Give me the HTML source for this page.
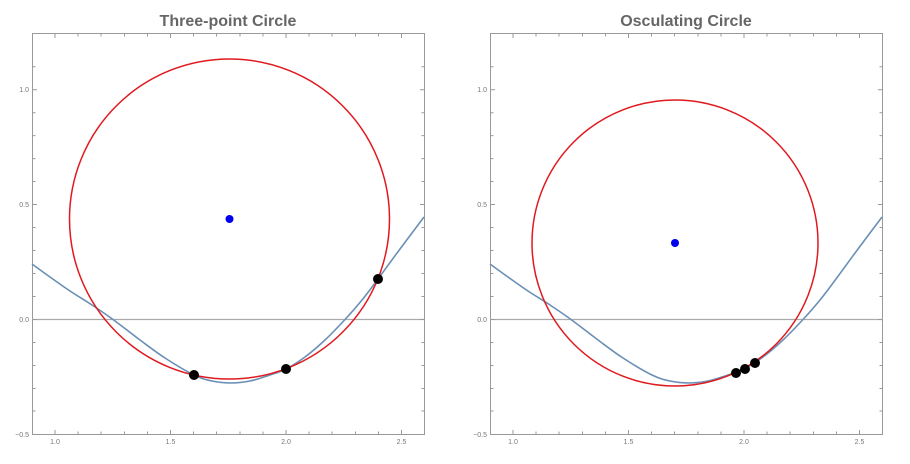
<!DOCTYPE html><html><head><style>body{margin:0;background:#fff}svg{display:block}text{font-family:"Liberation Sans",sans-serif}</style></head><body>
<svg width="910" height="464" viewBox="0 0 910 464">
<defs>
<g id="ax">
<rect x="32.5" y="33.5" width="392" height="401" fill="none" stroke="#999" stroke-width="1"/>
<line x1="32.5" y1="319.5" x2="424.5" y2="319.5" stroke="#aaa" stroke-width="1.2"/>
<g stroke="#999" stroke-width="1">
<path d="M55,434v-4M170.5,434v-4M286,434v-4M401.5,434v-4M55,34v4M170.5,34v4M286,34v4M401.5,34v4"/>
<path d="M78,434v-2.5M101,434v-2.5M124.5,434v-2.5M147.5,434v-2.5M193.5,434v-2.5M216.5,434v-2.5M240,434v-2.5M263,434v-2.5M309,434v-2.5M332,434v-2.5M355.5,434v-2.5M378.5,434v-2.5M78,34v2.5M101,34v2.5M124.5,34v2.5M147.5,34v2.5M193.5,34v2.5M216.5,34v2.5M240,34v2.5M263,34v2.5M309,34v2.5M332,34v2.5M355.5,34v2.5M378.5,34v2.5"/>
<path d="M33,89.7h4M33,204.5h4M33,319.5h4M424,89.7h-4M424,204.5h-4M424,319.5h-4"/>
<path d="M33,66.7h2.5M33,112.7h2.5M33,135.6h2.5M33,158.6h2.5M33,181.5h2.5M33,227.5h2.5M33,250.5h2.5M33,273.5h2.5M33,296.5h2.5M33,342.5h2.5M33,365.5h2.5M33,388.5h2.5M33,411h2.5M424,66.7h-2.5M424,112.7h-2.5M424,135.6h-2.5M424,158.6h-2.5M424,181.5h-2.5M424,227.5h-2.5M424,250.5h-2.5M424,273.5h-2.5M424,296.5h-2.5M424,342.5h-2.5M424,365.5h-2.5M424,388.5h-2.5M424,411h-2.5"/>
</g>
<g font-size="7" fill="#777">
<text x="29" y="92" text-anchor="end">1.0</text>
<text x="29" y="207" text-anchor="end">0.5</text>
<text x="29" y="322" text-anchor="end">0.0</text>
<text x="29" y="437" text-anchor="end">−0.5</text>
<text x="55" y="444" text-anchor="middle">1.0</text>
<text x="170.5" y="444" text-anchor="middle">1.5</text>
<text x="286" y="444" text-anchor="middle">2.0</text>
<text x="401.5" y="444" text-anchor="middle">2.5</text>
</g>
<path id="crv" fill="none" stroke="#6a8fb5" stroke-width="1.6" d="M32,264 L424,217"/>
</g>
</defs>
<use href="#ax"/>
<circle cx="229.5" cy="219" r="160" fill="none" stroke="#e0191e" stroke-width="1.5"/>
<circle cx="229.5" cy="219" r="4" fill="#0000ee"/>
<circle cx="194" cy="375" r="5" fill="#000"/>
<circle cx="286" cy="369" r="5" fill="#000"/>
<circle cx="378" cy="279" r="5" fill="#000"/>
<text x="228" y="26" text-anchor="middle" font-size="16" font-weight="bold" fill="#666">Three-point Circle</text>
<use href="#ax" x="458"/>
<circle cx="675" cy="243" r="143" fill="none" stroke="#e0191e" stroke-width="1.5"/>
<circle cx="675" cy="243" r="4" fill="#0000ee"/>
<circle cx="736" cy="373" r="5" fill="#000"/>
<circle cx="745" cy="369" r="5" fill="#000"/>
<circle cx="755" cy="363" r="5" fill="#000"/>
<text x="686" y="26" text-anchor="middle" font-size="16" font-weight="bold" fill="#666">Osculating Circle</text>
</svg>
<script>
var p=[[32,264],[50,277],[70,291],[92,305],[113,319.5],[140,340],[165,358],[194,375],[212,381],[231,383],[250,381],[270,375],[286,369],[305,357],[325,340],[345,319.5],[362,300],[378,279],[400,249],[424,217]];
var d="M"+p[0][0]+","+p[0][1];
for(var i=0;i<p.length-1;i++){var a=p[Math.max(i-1,0)],b=p[i],c=p[i+1],e=p[Math.min(i+2,p.length-1)];
d+=" C"+(b[0]+(c[0]-a[0])/6)+","+(b[1]+(c[1]-a[1])/6)+" "+(c[0]-(e[0]-b[0])/6)+","+(c[1]-(e[1]-b[1])/6)+" "+c[0]+","+c[1];}
document.getElementById("crv").setAttribute("d",d);
</script>
</body></html>
